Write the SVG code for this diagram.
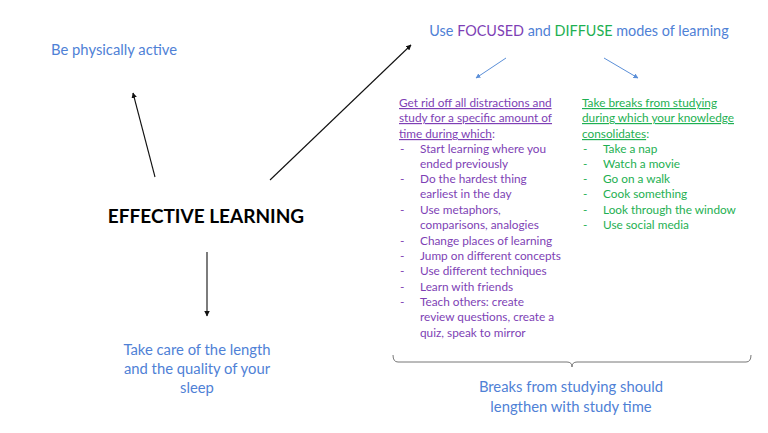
<svg xmlns="http://www.w3.org/2000/svg" width="768" height="433" viewBox="0 0 768 433">
<defs>
<marker id="ah" viewBox="0 0 10 10" refX="9" refY="5" markerWidth="5" markerHeight="5" orient="auto"><path d="M0,0 L10,5 L0,10 z" fill="#111"/></marker>
<marker id="ahb" viewBox="0 0 10 10" refX="9" refY="5" markerWidth="5" markerHeight="5" orient="auto"><path d="M0,0 L10,5 L0,10 z" fill="#5B8FD8"/></marker>
<style>
text{font-family:Lato,"Open Sans",sans-serif}
.b{fill:#4F81D6;font-size:14.8px}
.t{fill:#4F81D6;font-size:14.4px}
.p{fill:#7E3FB5;font-size:11.8px}
.g{fill:#1EB052;font-size:11.8px}
.u{text-decoration:underline}
.main{fill:#000;font-size:19px;font-weight:bold}
.k{stroke:#111;stroke-width:1.1;fill:none}
.bl{stroke:#5B8FD8;stroke-width:1;fill:none}
</style>
</defs>
<rect width="768" height="433" fill="#fff"/>
<g id="connectors">
<line class="k" x1="155" y1="177" x2="133" y2="93" marker-end="url(#ah)"/>
<line class="k" x1="270" y1="180" x2="411" y2="45" marker-end="url(#ah)"/>
<line class="k" x1="207" y1="252" x2="207" y2="316" marker-end="url(#ah)"/>
<line class="bl" x1="506" y1="58" x2="476" y2="78" marker-end="url(#ahb)"/>
<line class="bl" x1="604" y1="58" x2="638" y2="78" marker-end="url(#ahb)"/>
<path d="M393,355 Q393,362 398,362 L567,362 Q572,362 572,367 Q572,362 577,362 L746,362 Q751,362 751,355" stroke="#777" stroke-width="1" fill="none"/>
</g>
<g id="center"><text class="main" x="206" y="223" text-anchor="middle">EFFECTIVE LEARNING</text></g>
<g id="active"><text class="b" x="51" y="55">Be physically active</text></g>
<g id="sleep">
<text class="b" x="197" y="355" text-anchor="middle">Take care of the length</text>
<text class="b" x="197" y="374" text-anchor="middle">and the quality of your</text>
<text class="b" x="197" y="393" text-anchor="middle">sleep</text>
</g>
<g id="modes"><text class="t" x="579" y="36" text-anchor="middle">Use <tspan fill="#7E3FB5">FOCUSED</tspan> and <tspan fill="#1EB052">DIFFUSE</tspan> modes of learning</text></g>
<g id="focused">
<text class="p" x="399" y="107"><tspan class="u">Get rid off all distractions and</tspan></text>
<text class="p" x="399" y="122"><tspan class="u">study for a specific amount of</tspan></text>
<text class="p" x="399" y="138"><tspan class="u">time during which</tspan>:</text>
<text class="p" x="400" y="153">-</text><text class="p" x="420" y="153">Start learning where you</text>
<text class="p" x="420" y="168">ended previously</text>
<text class="p" x="400" y="183">-</text><text class="p" x="420" y="183">Do the hardest thing</text>
<text class="p" x="420" y="198">earliest in the day</text>
<text class="p" x="400" y="214">-</text><text class="p" x="420" y="214">Use metaphors,</text>
<text class="p" x="420" y="229">comparisons, analogies</text>
<text class="p" x="400" y="245">-</text><text class="p" x="420" y="245">Change places of learning</text>
<text class="p" x="400" y="260">-</text><text class="p" x="420" y="260">Jump on different concepts</text>
<text class="p" x="400" y="275">-</text><text class="p" x="420" y="275">Use different techniques</text>
<text class="p" x="400" y="291">-</text><text class="p" x="420" y="291">Learn with friends</text>
<text class="p" x="400" y="306">-</text><text class="p" x="420" y="306">Teach others: create</text>
<text class="p" x="420" y="321">review questions, create a</text>
<text class="p" x="420" y="337">quiz, speak to mirror</text>
</g>
<g id="diffuse">
<text class="g" x="582" y="107"><tspan class="u">Take breaks from studying</tspan></text>
<text class="g" x="582" y="122"><tspan class="u">during which your knowledge</tspan></text>
<text class="g" x="582" y="138"><tspan class="u">consolidates</tspan>:</text>
<text class="g" x="583" y="153">-</text><text class="g" x="603" y="153">Take a nap</text>
<text class="g" x="583" y="168">-</text><text class="g" x="603" y="168">Watch a movie</text>
<text class="g" x="583" y="183">-</text><text class="g" x="603" y="183">Go on a walk</text>
<text class="g" x="583" y="198">-</text><text class="g" x="603" y="198">Cook something</text>
<text class="g" x="583" y="214">-</text><text class="g" x="603" y="214">Look through the window</text>
<text class="g" x="583" y="229">-</text><text class="g" x="603" y="229">Use social media</text>
</g>
<g id="breaks">
<text class="b" x="571" y="392" text-anchor="middle">Breaks from studying should</text>
<text class="b" x="571" y="412" text-anchor="middle">lengthen with study time</text>
</g>
</svg>
